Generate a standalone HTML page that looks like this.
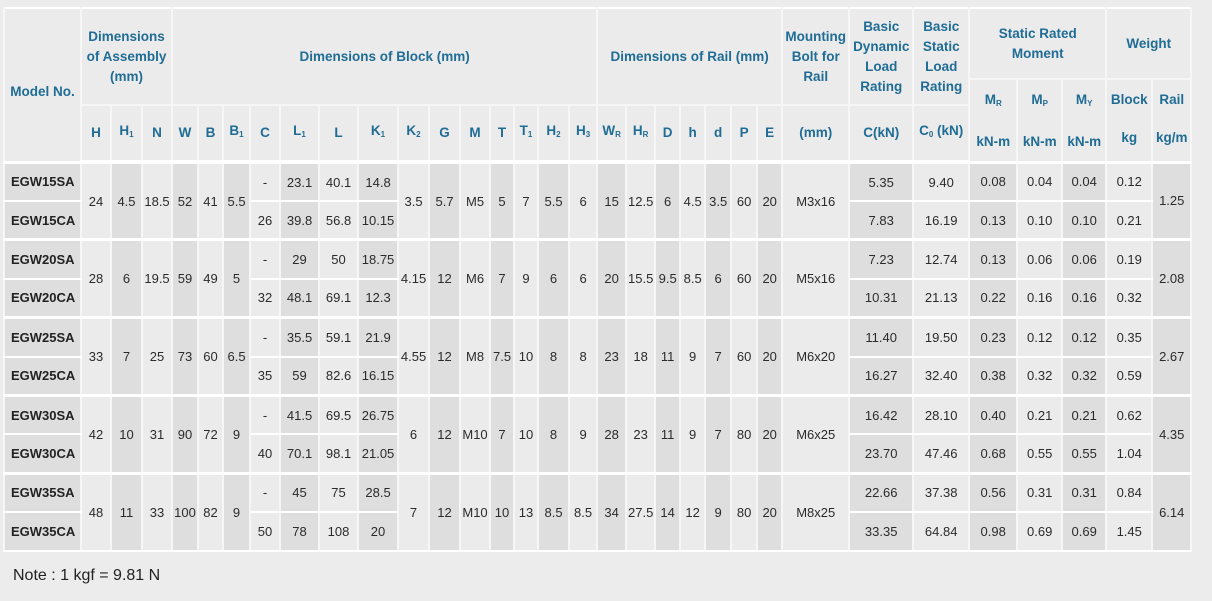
<!DOCTYPE html>
<html><head><meta charset="utf-8"><style>
html,body{margin:0;padding:0;background:#ececec;width:1212px;height:601px;overflow:hidden}
body{font-family:"Liberation Sans",sans-serif;}
table{position:absolute;left:3px;top:7px;border-collapse:collapse;table-layout:fixed;width:1187px;border-top:2px solid #fff}
td{padding:0;text-align:center;vertical-align:middle;font-size:13px;color:#2b2b2b;border-left:2px solid #f6f6f6;border-right:2px solid #f6f6f6;background:#ebebeb;white-space:nowrap;overflow:hidden}
thead td{color:#1f6c95;font-weight:bold;font-size:13.5px;line-height:20px;border-bottom:2px solid #f6f6f6}
tr.h1{height:71px}
tr.h2{height:26px}
tr.h3{height:57px}
thead tr.h3 td{border-bottom:4px solid #fff}
tbody td{border-bottom:2px solid #fff}
tr.a{height:39px;border-top:3px solid #fff}
tr.b{height:38.8px}
.k{background:#dedede}
.m{font-weight:bold;text-align:left;padding-left:6px;font-size:13px;color:#222}
sub{font-size:8px;vertical-align:-2px}
.mr{vertical-align:top;padding-top:10px;line-height:19px}
.note{position:absolute;left:13px;top:567px;font-size:16px;color:#222}
</style></head><body>
<table>
<colgroup>
<col style="width:77px"><col style="width:30px"><col style="width:31px"><col style="width:30px"><col style="width:26px"><col style="width:25px"><col style="width:27px"><col style="width:30px"><col style="width:39px"><col style="width:39px"><col style="width:40px"><col style="width:31px"><col style="width:31px"><col style="width:30px"><col style="width:24px"><col style="width:24px"><col style="width:31px"><col style="width:28px"><col style="width:29px"><col style="width:29px"><col style="width:25px"><col style="width:25px"><col style="width:26px"><col style="width:26px"><col style="width:25px"><col style="width:67px"><col style="width:64px"><col style="width:56px"><col style="width:48px"><col style="width:45px"><col style="width:44px"><col style="width:46px"><col style="width:39px">
</colgroup>
<thead>
<tr class="h1">
<td rowspan="3" style="padding-top:14px">Model No.</td>
<td colspan="3" rowspan="2">Dimensions<br>of Assembly<br>(mm)</td>
<td colspan="14" rowspan="2">Dimensions of Block (mm)</td>
<td colspan="7" rowspan="2">Dimensions of Rail (mm)</td>
<td rowspan="2">Mounting<br>Bolt for<br>Rail</td>
<td rowspan="2">Basic<br>Dynamic<br>Load<br>Rating</td>
<td rowspan="2">Basic<br>Static<br>Load<br>Rating</td>
<td colspan="3">Static Rated<br>Moment</td>
<td colspan="2">Weight</td>
</tr>
<tr class="h2">
<td rowspan="2" class="mr">M<sub>R</sub><br><br>kN-m</td>
<td rowspan="2" class="mr">M<sub>P</sub><br><br>kN-m</td>
<td rowspan="2" class="mr">M<sub>Y</sub><br><br>kN-m</td>
<td rowspan="2" class="mr">Block<br><br>kg</td>
<td rowspan="2" class="mr">Rail<br><br>kg/m</td>
</tr>
<tr class="h3">
<td>H</td><td>H<sub>1</sub></td><td>N</td><td>W</td><td>B</td><td>B<sub>1</sub></td><td>C</td><td>L<sub>1</sub></td><td>L</td><td>K<sub>1</sub></td><td>K<sub>2</sub></td><td>G</td><td>M</td><td>T</td><td>T<sub>1</sub></td><td>H<sub>2</sub></td><td>H<sub>3</sub></td><td>W<sub>R</sub></td><td>H<sub>R</sub></td><td>D</td><td>h</td><td>d</td><td>P</td><td>E</td><td>(mm)</td><td>C(kN)</td><td>C<sub>0</sub> (kN)</td>
</tr>
</thead>
<tbody>
<tr class="a"><td class="k m">EGW15SA</td><td rowspan="2">24</td><td rowspan="2" class="k">4.5</td><td rowspan="2">18.5</td><td rowspan="2" class="k">52</td><td rowspan="2">41</td><td rowspan="2" class="k">5.5</td><td>-</td><td class="k">23.1</td><td>40.1</td><td class="k">14.8</td><td rowspan="2">3.5</td><td rowspan="2" class="k">5.7</td><td rowspan="2">M5</td><td rowspan="2" class="k">5</td><td rowspan="2">7</td><td rowspan="2" class="k">5.5</td><td rowspan="2">6</td><td rowspan="2" class="k">15</td><td rowspan="2">12.5</td><td rowspan="2" class="k">6</td><td rowspan="2">4.5</td><td rowspan="2" class="k">3.5</td><td rowspan="2">60</td><td rowspan="2" class="k">20</td><td rowspan="2">M3x16</td><td class="k">5.35</td><td>9.40</td><td class="k">0.08</td><td>0.04</td><td class="k">0.04</td><td>0.12</td><td rowspan="2" class="k">1.25</td></tr>
<tr class="b"><td class="k m">EGW15CA</td><td>26</td><td class="k">39.8</td><td>56.8</td><td class="k">10.15</td><td class="k">7.83</td><td>16.19</td><td class="k">0.13</td><td>0.10</td><td class="k">0.10</td><td>0.21</td></tr>

<tr class="a"><td class="k m">EGW20SA</td><td rowspan="2">28</td><td rowspan="2" class="k">6</td><td rowspan="2">19.5</td><td rowspan="2" class="k">59</td><td rowspan="2">49</td><td rowspan="2" class="k">5</td><td>-</td><td class="k">29</td><td>50</td><td class="k">18.75</td><td rowspan="2">4.15</td><td rowspan="2" class="k">12</td><td rowspan="2">M6</td><td rowspan="2" class="k">7</td><td rowspan="2">9</td><td rowspan="2" class="k">6</td><td rowspan="2">6</td><td rowspan="2" class="k">20</td><td rowspan="2">15.5</td><td rowspan="2" class="k">9.5</td><td rowspan="2">8.5</td><td rowspan="2" class="k">6</td><td rowspan="2">60</td><td rowspan="2" class="k">20</td><td rowspan="2">M5x16</td><td class="k">7.23</td><td>12.74</td><td class="k">0.13</td><td>0.06</td><td class="k">0.06</td><td>0.19</td><td rowspan="2" class="k">2.08</td></tr>
<tr class="b"><td class="k m">EGW20CA</td><td>32</td><td class="k">48.1</td><td>69.1</td><td class="k">12.3</td><td class="k">10.31</td><td>21.13</td><td class="k">0.22</td><td>0.16</td><td class="k">0.16</td><td>0.32</td></tr>

<tr class="a"><td class="k m">EGW25SA</td><td rowspan="2">33</td><td rowspan="2" class="k">7</td><td rowspan="2">25</td><td rowspan="2" class="k">73</td><td rowspan="2">60</td><td rowspan="2" class="k">6.5</td><td>-</td><td class="k">35.5</td><td>59.1</td><td class="k">21.9</td><td rowspan="2">4.55</td><td rowspan="2" class="k">12</td><td rowspan="2">M8</td><td rowspan="2" class="k">7.5</td><td rowspan="2">10</td><td rowspan="2" class="k">8</td><td rowspan="2">8</td><td rowspan="2" class="k">23</td><td rowspan="2">18</td><td rowspan="2" class="k">11</td><td rowspan="2">9</td><td rowspan="2" class="k">7</td><td rowspan="2">60</td><td rowspan="2" class="k">20</td><td rowspan="2">M6x20</td><td class="k">11.40</td><td>19.50</td><td class="k">0.23</td><td>0.12</td><td class="k">0.12</td><td>0.35</td><td rowspan="2" class="k">2.67</td></tr>
<tr class="b"><td class="k m">EGW25CA</td><td>35</td><td class="k">59</td><td>82.6</td><td class="k">16.15</td><td class="k">16.27</td><td>32.40</td><td class="k">0.38</td><td>0.32</td><td class="k">0.32</td><td>0.59</td></tr>

<tr class="a"><td class="k m">EGW30SA</td><td rowspan="2">42</td><td rowspan="2" class="k">10</td><td rowspan="2">31</td><td rowspan="2" class="k">90</td><td rowspan="2">72</td><td rowspan="2" class="k">9</td><td>-</td><td class="k">41.5</td><td>69.5</td><td class="k">26.75</td><td rowspan="2">6</td><td rowspan="2" class="k">12</td><td rowspan="2">M10</td><td rowspan="2" class="k">7</td><td rowspan="2">10</td><td rowspan="2" class="k">8</td><td rowspan="2">9</td><td rowspan="2" class="k">28</td><td rowspan="2">23</td><td rowspan="2" class="k">11</td><td rowspan="2">9</td><td rowspan="2" class="k">7</td><td rowspan="2">80</td><td rowspan="2" class="k">20</td><td rowspan="2">M6x25</td><td class="k">16.42</td><td>28.10</td><td class="k">0.40</td><td>0.21</td><td class="k">0.21</td><td>0.62</td><td rowspan="2" class="k">4.35</td></tr>
<tr class="b"><td class="k m">EGW30CA</td><td>40</td><td class="k">70.1</td><td>98.1</td><td class="k">21.05</td><td class="k">23.70</td><td>47.46</td><td class="k">0.68</td><td>0.55</td><td class="k">0.55</td><td>1.04</td></tr>

<tr class="a"><td class="k m">EGW35SA</td><td rowspan="2">48</td><td rowspan="2" class="k">11</td><td rowspan="2">33</td><td rowspan="2" class="k">100</td><td rowspan="2">82</td><td rowspan="2" class="k">9</td><td>-</td><td class="k">45</td><td>75</td><td class="k">28.5</td><td rowspan="2">7</td><td rowspan="2" class="k">12</td><td rowspan="2">M10</td><td rowspan="2" class="k">10</td><td rowspan="2">13</td><td rowspan="2" class="k">8.5</td><td rowspan="2">8.5</td><td rowspan="2" class="k">34</td><td rowspan="2">27.5</td><td rowspan="2" class="k">14</td><td rowspan="2">12</td><td rowspan="2" class="k">9</td><td rowspan="2">80</td><td rowspan="2" class="k">20</td><td rowspan="2">M8x25</td><td class="k">22.66</td><td>37.38</td><td class="k">0.56</td><td>0.31</td><td class="k">0.31</td><td>0.84</td><td rowspan="2" class="k">6.14</td></tr>
<tr class="b"><td class="k m">EGW35CA</td><td>50</td><td class="k">78</td><td>108</td><td class="k">20</td><td class="k">33.35</td><td>64.84</td><td class="k">0.98</td><td>0.69</td><td class="k">0.69</td><td>1.45</td></tr>
</tbody>
</table>
<div class="note">Note : 1 kgf = 9.81 N</div>
</body></html>
